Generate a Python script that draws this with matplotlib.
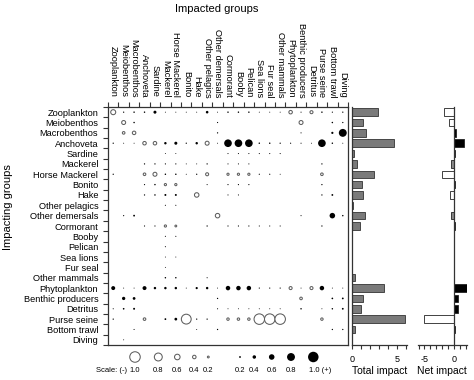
import matplotlib
matplotlib.use('Agg')
import matplotlib.pyplot as plt
import numpy as np

plt.rcParams['font.family'] = ['Liberation Sans', 'DejaVu Sans']

groups = ['Zooplankton', 'Meiobenthos', 'Macrobenthos', 'Anchoveta', 'Sardine',
          'Mackerel', 'Horse Mackerel', 'Bonito', 'Hake', 'Other pelagics',
          'Other demersals', 'Cormorant', 'Booby', 'Pelican', 'Sea lions',
          'Fur seal', 'Other mammals', 'Phytoplankton', 'Benthic producers',
          'Detritus', 'Purse seine', 'Bottom trawl', 'Diving']

# Mixed trophic impacts: rows = impacting group, columns = impacted group
impacts = [
    # Zoo  Mei   Mac   Anc   Sar   Mck   HMk   Bon   Hak   OPl   ODm   Cor   Boo   Pel   SLi   FSe   OMa   Phy   BPr   Det   PSn   BTr   Div
    [-0.55, 0.12, 0.15, 0.15, 0.35, 0.05, 0.05, 0.05, 0.05, 0.30, 0.05, 0.15, 0.15, 0.15, 0.05, 0.05, 0.05, -0.40, 0.08, -0.35, 0.15, 0.10, 0.12],
    [0, -0.45, 0.15, 0, 0, 0, 0, 0, 0, 0, 0.10, 0, 0, 0, 0, 0, 0, 0, -0.45, 0, 0, 0.15, 0.12],
    [0, -0.30, -0.40, 0, 0, 0, 0, 0, 0, 0, 0.12, 0, 0, 0, 0, 0, 0, 0, 0.08, 0, 0, 0.25, 0.80],
    [0.12, 0.05, 0.05, -0.40, -0.40, 0.28, 0.35, 0.12, 0.28, -0.45, 0.05, 0.78, 0.78, 0.78, 0.15, 0.15, 0.12, 0.10, 0.08, 0.05, 0.78, 0.15, 0.05],
    [0, 0, 0, 0, 0, 0.05, 0.05, 0, 0, 0, 0, 0.08, 0.08, 0.08, 0.08, 0.08, 0.08, 0, 0, 0, 0, 0, 0],
    [0, 0, 0, 0.12, 0.12, 0.10, 0.10, 0.05, 0.05, 0.12, 0, 0.08, 0.08, 0.08, 0, 0, 0, 0, 0, 0, 0.12, 0, 0],
    [0.12, 0, 0, -0.30, -0.45, 0.15, 0.15, 0.05, 0.12, -0.35, 0, -0.25, -0.25, -0.25, 0.10, 0.10, 0.05, 0, 0, 0, -0.30, 0, 0],
    [0, 0, 0, 0.10, 0.15, -0.25, -0.25, 0, 0, 0.08, 0, 0.10, 0.10, 0.10, 0, 0, 0, 0, 0, 0, 0.12, 0, 0],
    [0, 0, 0, 0.12, 0.15, 0.22, 0.22, 0, -0.50, 0, 0, 0.08, 0.08, 0, 0, 0, 0, 0, 0, 0, 0.12, 0.20, 0],
    [0, 0, 0, 0, 0, 0.08, 0.08, 0, 0, 0, 0, 0, 0, 0, 0, 0, 0, 0, 0, 0, 0, 0, 0],
    [0, 0.10, 0.20, 0, 0, 0, 0, 0, 0, 0, -0.50, 0, 0, 0, 0, 0, 0, 0, 0.08, 0, 0, 0.60, 0.15],
    [0, 0, 0, 0.10, 0.10, -0.25, -0.20, 0, 0, 0.12, 0, 0.10, 0.10, 0.10, 0.08, 0.08, 0.08, 0, 0, 0, 0.12, 0, 0],
    [0, 0, 0, 0, 0, 0.08, 0.08, 0, 0, 0, 0, 0, 0, 0, 0, 0, 0, 0, 0, 0, 0, 0, 0],
    [0, 0, 0, 0, 0, 0.08, 0, 0, 0, 0, 0, 0, 0, 0, 0, 0, 0, 0, 0, 0, 0, 0, 0],
    [0, 0, 0, 0, 0, 0.05, 0.05, 0, 0, 0, 0, 0, 0, 0, 0, 0, 0, 0, 0, 0, 0, 0, 0],
    [0, 0, 0, 0, 0, 0.05, 0, 0, 0, 0, 0, 0, 0, 0, 0, 0, 0, 0, 0, 0, 0, 0, 0],
    [0, 0, 0, 0, 0, 0.15, 0.15, 0, 0, 0.08, 0, 0, 0, 0, 0, 0, 0, 0, 0, 0, 0, 0, 0],
    [0.45, 0.05, 0.05, 0.45, 0.28, 0.28, 0.28, 0.05, 0.25, 0.28, 0.05, 0.50, 0.50, 0.50, 0.10, 0.10, 0.10, -0.35, 0.05, -0.35, 0.50, 0.05, 0.05],
    [0, 0.38, 0.32, 0, 0, 0, 0, 0, 0, 0, 0.12, 0, 0, 0, 0, 0, 0, 0, -0.30, 0, 0, 0.18, 0.20],
    [0.08, 0.18, 0.22, 0, 0, 0, 0, 0, 0, 0, 0.08, 0.05, 0.05, 0.05, 0.05, 0.05, 0.05, 0, 0.15, 0, 0.05, 0.15, 0.20],
    [0.12, 0, 0, -0.30, 0, 0.20, 0.32, -0.95, 0.12, 0.12, 0, -0.28, -0.28, -0.28, -1.00, -1.00, -1.00, 0, 0, 0, -0.28, 0, 0],
    [0, 0, 0.08, 0, 0, 0, 0, 0, 0.05, 0, 0.12, 0, 0, 0, 0, 0, 0, 0, 0, 0, 0, 0.12, 0.12],
    [0, 0.05, 0, 0, 0, 0, 0, 0, 0, 0, 0, 0, 0, 0, 0, 0, 0, 0, 0, 0, 0, 0, 0],
]

total_impact = [2.85, 1.24, 1.57, 4.64, 0.22, 0.52, 2.40, 1.05, 1.24, 0.10, 1.39, 0.86,
                0.02, 0.02, 0.02, 0.02, 0.34, 3.52, 1.16, 0.97, 5.90, 0.34, 0.02]
net_impact = [-1.64, -0.80, 0.30, 1.75, 0.10, -0.50, -1.98, 0.10, -0.62, 0.05, -0.45, 0.10,
              0.0, 0.0, 0.0, 0.0, 0.05, 2.15, 0.68, 0.68, -5.00, 0.10, 0.0]
net_colors = ['white', 'white', 'black', 'black', 'black', '#8a8a8a', 'white', 'black', 'white',
              'black', '#8a8a8a', 'black', 'black', 'black', 'black', 'black', 'black', 'black',
              'black', 'black', 'white', 'black', 'black']

scale_neg = [1.0, 0.8, 0.6, 0.4, 0.2]
scale_pos = [0.2, 0.4, 0.6, 0.8, 1.0]

W, H = 474, 380
fig = plt.figure(figsize=(W / 100, H / 100), dpi=100)


def box(x0, y0, x1, y1):
    return [x0 / W, 1 - y1 / H, (x1 - x0) / W, (y1 - y0) / H]


def msize(v):
    d_px = 0.8 + 9.7 * np.abs(np.asarray(v, dtype=float)) ** 1.4
    return (d_px * 0.72) ** 2


n = len(groups)
spine_col = '#333333'
ring_col = '#5e5e5e'

# ---- main bubble matrix ----
ax = fig.add_axes(box(108, 107, 348, 345))
ax.set_xlim(-0.5, n - 0.5)
ax.set_ylim(n - 0.5, -0.5)
M = np.array(impacts, dtype=float)
rr, cc = np.nonzero(M)
vals = M[rr, cc]
pos = vals > 0
ax.scatter(cc[pos], rr[pos], s=msize(vals[pos]), c='black', edgecolors='none', zorder=3)
neg = ~pos
ax.scatter(cc[neg], rr[neg], s=msize(vals[neg]), facecolors='white',
           edgecolors=ring_col, linewidths=0.75, zorder=3)

ax.xaxis.tick_top()
ax.set_xticks(range(n))
ax.set_xticklabels(groups, rotation=270, fontsize=6.7, va='bottom', ha='center')
ax.set_yticks(range(n))
ax.set_yticklabels(groups, fontsize=6.7)
ax.tick_params(axis='both', which='major', length=0)
ax.tick_params(axis='x', which='major', pad=7)
ax.tick_params(axis='y', which='major', pad=7)
ax.set_xticks(np.arange(-0.5, n, 1.0), minor=True)
ax.set_yticks(np.arange(-0.5, n, 1.0), minor=True)
ax.tick_params(axis='x', which='minor', length=3.5, width=0.8, direction='out',
               top=True, bottom=False, color=spine_col)
ax.tick_params(axis='y', which='minor', length=3.5, width=0.8, direction='out',
               left=True, right=False, color=spine_col)
for s in ax.spines.values():
    s.set_color(spine_col)
    s.set_linewidth(0.9)

# ---- total impact ----
axT = fig.add_axes(box(352.3, 107, 406.7, 345))
axT.barh(range(n), total_impact, height=0.72, color='#7a7a7a', edgecolor='#333333', linewidth=0.6)
axT.set_ylim(n - 0.5, -0.5)
axT.set_xlim(0, 6.1)
axT.set_yticks([])
axT.set_xticks(range(0, 7))
axT.set_xticklabels(['0', '', '', '', '', '5', ''], fontsize=6.5)
axT.tick_params(axis='x', length=3, width=0.8, pad=4, color=spine_col)
axT.set_xlabel('Total impact', fontsize=7.5, labelpad=1.5)
for k in ['top', 'right']:
    axT.spines[k].set_visible(False)
for k in ['left', 'bottom']:
    axT.spines[k].set_color(spine_col)
    axT.spines[k].set_linewidth(0.9)

# ---- net impact ----
axN = fig.add_axes(box(417.7, 107, 466.7, 345))
axN.barh(range(n), net_impact, height=0.72, color=net_colors, edgecolor='#222222', linewidth=0.6)
axN.set_ylim(n - 0.5, -0.5)
axN.set_xlim(-6.15, 2.15)
axN.set_yticks([])
axN.set_xticks(range(-6, 3))
axN.set_xticklabels(['', '-5', '', '', '', '', '0', '', ''], fontsize=6.5)
axN.tick_params(axis='x', length=3, width=0.8, pad=4, color=spine_col)
axN.set_xlabel('Net impact', fontsize=7.5, labelpad=1.5)
axN.spines['left'].set_position(('data', 0))
for k in ['top', 'right']:
    axN.spines[k].set_visible(False)
for k in ['left', 'bottom']:
    axN.spines[k].set_color(spine_col)
    axN.spines[k].set_linewidth(0.9)

# ---- scale legend (figure pixel coordinates) ----
axL = fig.add_axes([0, 0, 1, 1], zorder=-1)
axL.set_xlim(0, W)
axL.set_ylim(H, 0)
axL.axis('off')
neg_x = [135, 158.3, 177.3, 194.3, 208.3]
pos_x = [240, 254.3, 271.7, 291, 313.3]
axL.scatter(neg_x, [357] * 5, s=msize(scale_neg), facecolors='white',
            edgecolors=ring_col, linewidths=0.75)
axL.scatter(pos_x, [357] * 5, s=msize(scale_pos), c='black', edgecolors='none')
axL.text(112, 371, 'Scale: (-)', fontsize=5.5, ha='center', va='center')
for x, v in zip(neg_x, scale_neg):
    axL.text(x, 371, f'{v:.1f}', fontsize=5.5, ha='center', va='center')
for x, v in zip(pos_x[:-1], scale_pos[:-1]):
    axL.text(x, 371, f'{v:.1f}', fontsize=5.5, ha='center', va='center')
axL.text(pos_x[-1] - 4.5, 371, f'{scale_pos[-1]:.1f} (+)', fontsize=5.5, ha='left', va='center')

fig.text(217 / W, 1 - 9.5 / H, 'Impacted groups', ha='center', va='center', fontsize=8)
fig.text(8.3 / W, 1 - 206.7 / H, 'Impacting groups', rotation=90, ha='center', va='center', fontsize=8)

fig.savefig('out.png', dpi=100)
